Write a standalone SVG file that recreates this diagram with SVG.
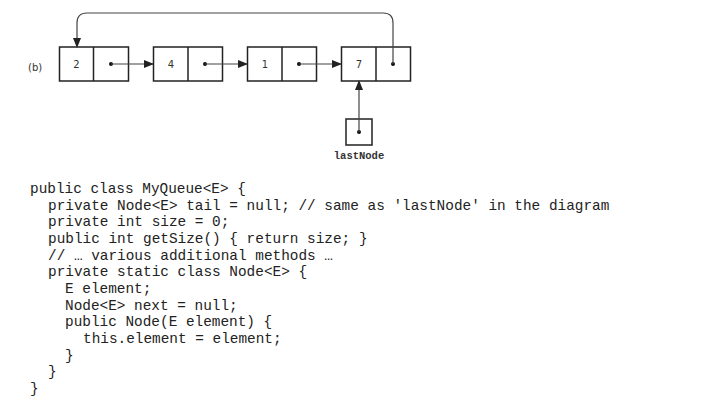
<svg xmlns="http://www.w3.org/2000/svg" width="702" height="413" viewBox="0 0 702 413">
<style>
.b{fill:#fff;stroke:#222;stroke-width:1.5}
.n{font-family:"DejaVu Sans",sans-serif;font-size:10px;fill:#333;text-anchor:middle}
.c{font-family:"Liberation Mono",monospace;font-size:14.4px;fill:#222;white-space:pre}
.l{stroke:#444;stroke-width:1.2;fill:none}
</style>
<defs><marker id="a" markerWidth="10" markerHeight="8" refX="9" refY="4" orient="auto" markerUnits="userSpaceOnUse"><path d="M0,0L10,4L0,8z" fill="#222"/></marker></defs>
<rect width="702" height="413" fill="#fff"/>
<text x="28" y="71" class="n" style="text-anchor:start">(b)</text>
<g id="n2"><rect class="b" x="59.5" y="47" width="69" height="34"/><line class="b" x1="93.5" y1="47" x2="93.5" y2="81"/><text class="n" x="76.5" y="68">2</text><circle cx="111" cy="64" r="2" fill="#111"/></g>
<g id="n4"><rect class="b" x="153.5" y="47" width="69" height="34"/><line class="b" x1="188" y1="47" x2="188" y2="81"/><text class="n" x="171" y="68">4</text><circle cx="205" cy="64" r="2" fill="#111"/></g>
<g id="n1"><rect class="b" x="247.5" y="47" width="69" height="34"/><line class="b" x1="282" y1="47" x2="282" y2="81"/><text class="n" x="265" y="68">1</text><circle cx="299" cy="64" r="2" fill="#111"/></g>
<g id="n7"><rect class="b" x="341.5" y="47" width="69" height="34"/><line class="b" x1="376" y1="47" x2="376" y2="81"/><text class="n" x="359" y="68">7</text><circle cx="393" cy="64" r="2" fill="#111"/></g>
<g id="last"><rect class="b" x="346" y="119" width="26" height="26"/><circle cx="359" cy="132" r="2" fill="#111"/><text x="359" y="159" style="font-family:'Liberation Mono',monospace;font-size:10.5px;font-weight:bold;fill:#333;text-anchor:middle">lastNode</text></g>
<g id="connectors">
<line class="l" x1="111" y1="64" x2="153" y2="64" marker-end="url(#a)"/>
<line class="l" x1="205" y1="64" x2="247" y2="64" marker-end="url(#a)"/>
<line class="l" x1="299" y1="64" x2="341" y2="64" marker-end="url(#a)"/>
<line class="l" x1="359" y1="132" x2="359" y2="81" marker-end="url(#a)"/>
<path class="l" d="M393,64V23Q393,13 383,13H87Q77,13 77,23V47" marker-end="url(#a)"/>
</g>
<g id="code">
<text class="c" x="30" y="193">public class MyQueue&lt;E&gt; {</text>
<text class="c" x="48" y="210">private Node&lt;E&gt; tail = null; // same as 'lastNode' in the diagram</text>
<text class="c" x="48" y="226">private int size = 0;</text>
<text class="c" x="48" y="243">public int getSize() { return size; }</text>
<text class="c" x="48" y="260">// … various additional methods …</text>
<text class="c" x="48" y="276">private static class Node&lt;E&gt; {</text>
<text class="c" x="65" y="293">E element;</text>
<text class="c" x="65" y="310">Node&lt;E&gt; next = null;</text>
<text class="c" x="65" y="326">public Node(E element) {</text>
<text class="c" x="83" y="343">this.element = element;</text>
<text class="c" x="65" y="360">}</text>
<text class="c" x="48" y="376">}</text>
<text class="c" x="30" y="393">}</text>
</g>
</svg>
